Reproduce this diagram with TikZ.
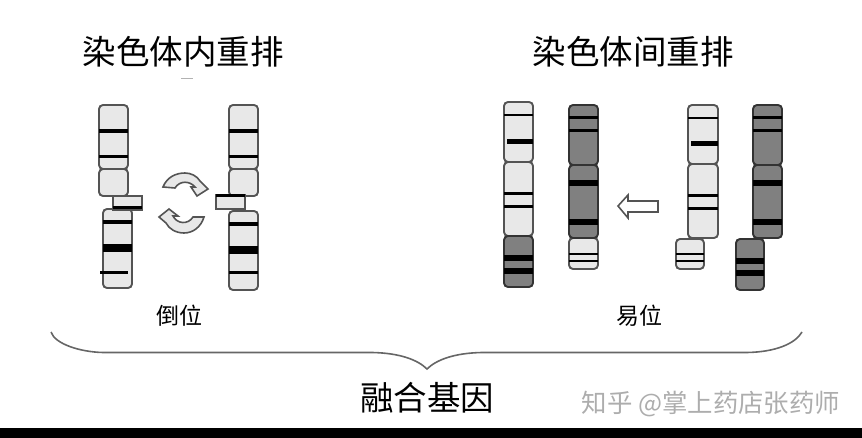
\documentclass[tikz,border=0pt]{standalone}
\usepackage{fontspec}
\setmainfont{Noto Sans CJK SC}
\definecolor{chromedge}{gray}{0.33}
\definecolor{chromlight}{gray}{0.91}
\definecolor{chromdark}{gray}{0.50}
\definecolor{markcolor}{gray}{0.68}
\tikzset{
    lightarm/.style={draw=chromedge, fill=chromlight, line width=1.9pt, rounded corners=4pt},
    darkarm/.style={draw=black!80, fill=chromdark, line width=1.9pt, rounded corners=4pt},
    blockarrow/.style={draw=chromedge, fill=chromlight, line width=1.6pt, line join=miter},
    bigtext/.style={inner sep=0pt, font=\fontsize{33.5}{33.5}\selectfont},
    smalltext/.style={inner sep=0pt, font=\fontsize{23}{23}\selectfont},
}
\begin{document}
\begin{tikzpicture}[x=1pt, y=-1pt]
        \useasboundingbox (0,0) rectangle (862,438);
        \fill[black] (0,427.5) rectangle (862,438);
        % titles
        \node[bigtext] (intra) at (183,51.5) {染色体内重排};
        \node[bigtext] (inter) at (633,51.5) {染色体间重排};
        \node[smalltext] (inv) at (179,316) {倒位};
        \node[smalltext] (trans) at (639,316) {易位};
        \node[bigtext] (fusion) at (427,398) {融合基因};
        \node[inner sep=0pt, text=markcolor, font=\fontsize{25.4}{25.4}\selectfont] (mark) at (711,404) {知乎 @掌上药店张药师};
        \draw[gray!60, line width=1pt] (181,79) -- (193,79);
        % inversion, left chromosome
        \draw[lightarm] (99,105) rectangle (128,169);
        \draw[lightarm] (99,169) rectangle (128,196);
        \draw[lightarm] (103,209) rectangle (132,288);
        \draw[blockarrow] (113,196) rectangle (142,210);
        \foreach \y/\w in {131/4, 157/3}
            \draw[black, line width=\w pt] (99,\y) -- (128,\y);
        \foreach \y/\w in {222/4, 248/8}
            \draw[black, line width=\w pt] (103,\y) -- (132,\y);
        \draw[black, line width=3pt] (100,273) -- (128,273);
        \draw[black, line width=3pt] (113,208) -- (142,208);
        % inversion, right chromosome
        \draw[lightarm] (229,105) rectangle (258,169);
        \draw[lightarm] (229,169) rectangle (258,196);
        \draw[lightarm] (229,211) rectangle (258,290);
        \draw[blockarrow] (216,195) rectangle (245,209);
        \foreach \y/\w in {131/4, 157/3, 224/4, 250/8, 273/3}
            \draw[black, line width=\w pt] (229,\y) -- (258,\y);
        \draw[black, line width=3pt] (216,196) -- (245,196);
        % curved arrows
        \draw[blockarrow] (163,187) .. controls (167,177) and (176,173) .. (185,173)
                .. controls (191,173) and (197,176) .. (200,181)
                -- (208,189) -- (197,196) -- (191,187) -- (195,187)
                .. controls (190,181) and (180,180) .. (175,188) -- cycle;
        \draw[blockarrow] (204,217) .. controls (201,227) and (193,233) .. (184,233)
                .. controls (176,233) and (169,229) .. (166,223)
                -- (159,217) -- (169,209) -- (178,216) -- (173,216)
                .. controls (177,224) and (188,225) .. (193,217) -- cycle;
        % translocation, first pair
        \draw[lightarm] (504,102) rectangle (533,162);
        \draw[lightarm] (504,162) rectangle (533,236);
        \draw[darkarm] (504,236) rectangle (533,287);
        \foreach \y/\w in {115/2, 194/3, 207/3, 258/6, 271/6}
            \draw[black, line width=\w pt] (504,\y) -- (533,\y);
        \draw[black, line width=5pt] (507,142) -- (533,142);
        \draw[lightarm] (569,238) rectangle (598,269);
        \draw[darkarm] (569,105) rectangle (598,165);
        \draw[darkarm] (569,165) rectangle (598,238);
        \foreach \y/\w in {118/3, 131/3, 183/6, 222/6, 254/2, 261/2}
            \draw[black, line width=\w pt] (569,\y) -- (598,\y);
        % arrow between the pairs
        \draw[blockarrow, fill=white] (618,206) -- (628,195) -- (628,201) -- (658,201)
                -- (658,212) -- (628,212) -- (628,218) -- cycle;
        % translocation, second pair
        \draw[lightarm] (688,105) rectangle (718,164);
        \draw[lightarm] (688,164) rectangle (718,238);
        \draw[lightarm] (676,239) rectangle (704,269);
        \foreach \y/\w in {118/2, 196/3, 209/3}
            \draw[black, line width=\w pt] (688,\y) -- (718,\y);
        \draw[black, line width=5pt] (691,144) -- (718,144);
        \foreach \y in {254, 261}
            \draw[black, line width=2pt] (676,\y) -- (704,\y);
        \draw[darkarm] (753,105) rectangle (782,165);
        \draw[darkarm] (753,165) rectangle (782,238);
        \draw[darkarm] (736,239) rectangle (764,290);
        \foreach \y/\w in {118/3, 131/3, 183/6, 222/6}
            \draw[black, line width=\w pt] (753,\y) -- (782,\y);
        \foreach \y in {261, 273}
            \draw[black, line width=6pt] (736,\y) -- (764,\y);
        % brace
        \draw[black!60, line width=1.6pt] (51,332) .. controls (55,344) and (80,352) .. (103,352.5)
                -- (372,352.5) .. controls (400,353) and (418,360) .. (427,369)
                .. controls (436,360) and (454,353) .. (482,352.5)
                -- (747,352.5) .. controls (775,352) and (795,344) .. (802,332);
    \end{tikzpicture}
\end{document}
